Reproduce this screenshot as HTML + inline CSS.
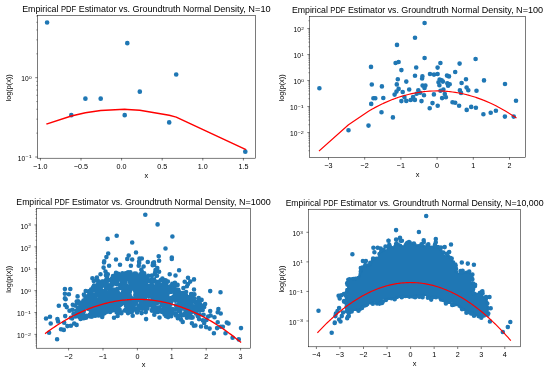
<!DOCTYPE html>
<html><head><meta charset="utf-8"><style>
html,body{margin:0;padding:0;background:#fff;}
svg{display:block;will-change:transform;}
text{font-family:"Liberation Sans",sans-serif;fill:#000;}
</style></head><body>
<svg width="550" height="372" viewBox="0 0 550 372">
<rect width="550" height="372" fill="#fff"/>
<clipPath id="ctl"><rect x="37.5" y="15.5" width="217.9" height="142.7"/></clipPath>
<g clip-path="url(#ctl)">
<path d="M47.1 22.5h0M127.3 43.2h0M71.3 115.2h0M85.4 98.7h0M100.7 98.7h0M124.7 115.2h0M139.8 91.7h0M176.2 74.5h0M169.2 122.4h0M245.3 151.7h0" stroke="#1f77b4" stroke-width="4.69" stroke-linecap="round" fill="none"/>
<path d="M47.10,123.84 L71.30,115.96 L85.40,112.77 L100.70,110.49 L124.70,109.37 L127.30,109.43 L139.80,110.21 L169.20,115.27 L176.20,117.13 L245.30,149.31" fill="none" stroke="#ff0000" stroke-width="1.50" stroke-linejoin="round" stroke-linecap="square"/>
</g>
<rect x="37.5" y="15.5" width="217.9" height="142.7" fill="none" stroke="#000" stroke-width="0.52"/>
<line x1="40.40" y1="158.2" x2="40.40" y2="160.48" stroke="#000" stroke-width="0.52"/>
<text x="40.40" y="168.84" font-size="7.80" text-anchor="middle" textLength="14.17" lengthAdjust="spacingAndGlyphs" >−1.0</text>
<line x1="81.00" y1="158.2" x2="81.00" y2="160.48" stroke="#000" stroke-width="0.52"/>
<text x="81.00" y="168.84" font-size="7.80" text-anchor="middle" textLength="14.17" lengthAdjust="spacingAndGlyphs" >−0.5</text>
<line x1="121.60" y1="158.2" x2="121.60" y2="160.48" stroke="#000" stroke-width="0.52"/>
<text x="121.60" y="168.84" font-size="7.80" text-anchor="middle" textLength="9.97" lengthAdjust="spacingAndGlyphs" >0.0</text>
<line x1="162.20" y1="158.2" x2="162.20" y2="160.48" stroke="#000" stroke-width="0.52"/>
<text x="162.20" y="168.84" font-size="7.80" text-anchor="middle" textLength="9.97" lengthAdjust="spacingAndGlyphs" >0.5</text>
<line x1="202.80" y1="158.2" x2="202.80" y2="160.48" stroke="#000" stroke-width="0.52"/>
<text x="202.80" y="168.84" font-size="7.80" text-anchor="middle" textLength="9.97" lengthAdjust="spacingAndGlyphs" >1.0</text>
<line x1="243.40" y1="158.2" x2="243.40" y2="160.48" stroke="#000" stroke-width="0.52"/>
<text x="243.40" y="168.84" font-size="7.80" text-anchor="middle" textLength="9.97" lengthAdjust="spacingAndGlyphs" >1.5</text>
<line x1="35.22" y1="157.00" x2="37.5" y2="157.00" stroke="#000" stroke-width="0.52"/>
<text x="17.85" y="160.79" font-size="7.80" text-anchor="start" textLength="7.40" lengthAdjust="spacingAndGlyphs" >10</text>
<text x="25.55" y="158.22" font-size="4.13" text-anchor="start" textLength="6.09" lengthAdjust="spacingAndGlyphs" >−1</text>
<line x1="35.22" y1="77.70" x2="37.5" y2="77.70" stroke="#000" stroke-width="0.52"/>
<text x="21.31" y="81.49" font-size="7.80" text-anchor="start" textLength="7.40" lengthAdjust="spacingAndGlyphs" >10</text>
<text x="29.01" y="78.92" font-size="4.13" text-anchor="start" textLength="2.63" lengthAdjust="spacingAndGlyphs" >0</text>
<line x1="36.20" y1="133.13" x2="37.5" y2="133.13" stroke="#000" stroke-width="0.39"/>
<line x1="36.20" y1="119.16" x2="37.5" y2="119.16" stroke="#000" stroke-width="0.39"/>
<line x1="36.20" y1="109.26" x2="37.5" y2="109.26" stroke="#000" stroke-width="0.39"/>
<line x1="36.20" y1="101.57" x2="37.5" y2="101.57" stroke="#000" stroke-width="0.39"/>
<line x1="36.20" y1="95.29" x2="37.5" y2="95.29" stroke="#000" stroke-width="0.39"/>
<line x1="36.20" y1="89.98" x2="37.5" y2="89.98" stroke="#000" stroke-width="0.39"/>
<line x1="36.20" y1="85.38" x2="37.5" y2="85.38" stroke="#000" stroke-width="0.39"/>
<line x1="36.20" y1="81.33" x2="37.5" y2="81.33" stroke="#000" stroke-width="0.39"/>
<line x1="36.20" y1="53.83" x2="37.5" y2="53.83" stroke="#000" stroke-width="0.39"/>
<line x1="36.20" y1="39.86" x2="37.5" y2="39.86" stroke="#000" stroke-width="0.39"/>
<line x1="36.20" y1="29.96" x2="37.5" y2="29.96" stroke="#000" stroke-width="0.39"/>
<line x1="36.20" y1="22.27" x2="37.5" y2="22.27" stroke="#000" stroke-width="0.39"/>
<line x1="36.20" y1="15.99" x2="37.5" y2="15.99" stroke="#000" stroke-width="0.39"/>
<text x="22.20" y="11.90" font-size="8.60" textLength="36.31" lengthAdjust="spacingAndGlyphs">Empirical</text>
<text x="60.99" y="11.90" font-size="8.60" textLength="15.22" lengthAdjust="spacingAndGlyphs">PDF</text>
<text x="78.69" y="11.90" font-size="8.60" textLength="37.69" lengthAdjust="spacingAndGlyphs">Estimator</text>
<text x="118.86" y="11.90" font-size="8.60" textLength="11.17" lengthAdjust="spacingAndGlyphs">vs.</text>
<text x="132.51" y="11.90" font-size="8.60" textLength="47.97" lengthAdjust="spacingAndGlyphs">Groundtruth</text>
<text x="182.96" y="11.90" font-size="8.60" textLength="28.26" lengthAdjust="spacingAndGlyphs">Normal</text>
<text x="213.71" y="11.90" font-size="8.60" textLength="32.18" lengthAdjust="spacingAndGlyphs">Density,</text>
<text x="248.37" y="11.90" font-size="8.60" textLength="22.33" lengthAdjust="spacingAndGlyphs">N=10</text>
<text x="146.45" y="177.60" font-size="7.40" text-anchor="middle" >x</text>
<text x="11.20" y="87.85" font-size="6.60" text-anchor="middle" textLength="27.00" lengthAdjust="spacingAndGlyphs" transform="rotate(-90 11.20 87.85)" >log(p(x))</text>
<clipPath id="ctr"><rect x="309.6" y="16.5" width="215.89999999999998" height="140.9"/></clipPath>
<g clip-path="url(#ctr)">
<path d="M415.0 37.8h0M397.0 44.9h0M424.6 23.0h0M395.6 63.0h0M398.6 62.0h0M371.0 66.9h0M401.4 70.1h0M416.2 67.5h0M415.0 75.8h0M397.8 79.2h0M406.3 81.6h0M424.6 58.0h0M475.6 59.0h0M440.4 63.0h0M459.6 63.6h0M437.6 67.6h0M455.2 72.0h0M430.0 74.0h0M434.0 74.6h0M437.6 74.0h0M422.4 76.4h0M447.0 75.6h0M449.0 76.4h0M466.0 79.2h0M484.0 80.4h0M461.6 83.0h0M505.0 84.0h0M319.4 88.2h0M371.8 84.5h0M381.9 86.4h0M373.4 98.2h0M375.3 98.2h0M383.3 98.0h0M371.2 103.9h0M381.5 112.2h0M368.5 125.6h0M348.5 130.2h0M396.8 84.4h0M398.6 88.9h0M396.5 91.6h0M394.6 94.6h0M402.7 92.0h0M409.2 89.5h0M404.4 97.1h0M401.4 101.1h0M406.3 100.9h0M410.7 100.0h0M414.9 99.9h0M413.1 97.1h0M416.6 93.8h0M418.3 90.2h0M420.1 92.7h0M422.6 85.6h0M425.4 85.6h0M424.5 88.0h0M424.0 95.2h0M421.5 101.1h0M433.9 94.4h0M432.5 103.1h0M429.7 108.3h0M437.7 105.8h0M422.1 78.5h0M439.6 79.5h0M438.5 82.2h0M442.9 81.6h0M447.3 83.3h0M441.7 80.2h0M449.7 84.2h0M439.4 85.3h0M448.1 85.8h0M443.4 89.5h0M466.6 87.5h0M468.3 90.2h0M476.5 90.7h0M459.9 90.2h0M461.0 92.9h0M440.5 90.7h0M444.8 94.0h0M445.9 97.3h0M442.1 98.1h0M452.5 102.2h0M455.2 102.7h0M516.0 100.7h0M466.7 109.9h0M471.2 106.9h0M475.9 107.8h0M483.4 114.3h0M490.7 112.8h0M495.9 110.7h0M504.9 116.6h0M513.7 116.6h0M392.9 117.4h0M459.1 105.8h0" stroke="#1f77b4" stroke-width="4.64" stroke-linecap="round" fill="none"/>
<path d="M319.40,150.61 L348.50,124.75 L368.50,111.20 L371.00,109.75 L371.20,109.64 L371.80,109.30 L373.40,108.41 L375.30,107.38 L381.50,104.24 L381.90,104.05 L383.30,103.40 L392.90,99.34 L394.60,98.71 L395.60,98.35 L396.50,98.03 L396.80,97.92 L397.00,97.85 L397.80,97.58 L398.60,97.31 L398.60,97.31 L401.40,96.42 L401.40,96.42 L402.70,96.02 L404.40,95.53 L406.30,95.01 L406.30,95.01 L409.20,94.28 L410.70,93.93 L413.10,93.41 L414.90,93.05 L415.00,93.03 L415.00,93.03 L416.20,92.81 L416.60,92.74 L418.30,92.45 L420.10,92.17 L421.50,91.97 L422.10,91.90 L422.40,91.86 L422.60,91.83 L424.00,91.67 L424.50,91.61 L424.60,91.60 L424.60,91.60 L425.40,91.52 L429.70,91.16 L430.00,91.14 L432.50,91.02 L433.90,90.97 L434.00,90.97 L437.60,90.93 L437.60,90.93 L437.70,90.93 L438.50,90.93 L439.40,90.95 L439.60,90.95 L440.40,90.97 L440.50,90.98 L441.70,91.02 L442.10,91.03 L442.90,91.07 L443.40,91.10 L444.80,91.18 L445.90,91.26 L447.00,91.35 L447.30,91.37 L448.10,91.45 L449.00,91.54 L449.70,91.61 L452.50,91.95 L455.20,92.34 L455.20,92.34 L459.10,93.01 L459.60,93.11 L459.90,93.17 L461.00,93.39 L461.60,93.51 L466.00,94.52 L466.60,94.68 L466.70,94.70 L468.30,95.12 L471.20,95.94 L475.60,97.31 L475.90,97.41 L476.50,97.61 L483.40,100.16 L484.00,100.40 L490.70,103.30 L495.90,105.82 L504.90,110.73 L505.00,110.79 L513.70,116.21 L516.00,117.75" fill="none" stroke="#ff0000" stroke-width="1.15" stroke-linejoin="round" stroke-linecap="square"/>
</g>
<rect x="309.6" y="16.5" width="215.89999999999998" height="140.9" fill="none" stroke="#000" stroke-width="0.52"/>
<line x1="328.50" y1="157.4" x2="328.50" y2="159.66" stroke="#000" stroke-width="0.52"/>
<text x="328.50" y="168.00" font-size="7.80" text-anchor="middle" textLength="8.18" lengthAdjust="spacingAndGlyphs" >−3</text>
<line x1="364.70" y1="157.4" x2="364.70" y2="159.66" stroke="#000" stroke-width="0.52"/>
<text x="364.70" y="168.00" font-size="7.80" text-anchor="middle" textLength="8.18" lengthAdjust="spacingAndGlyphs" >−2</text>
<line x1="400.90" y1="157.4" x2="400.90" y2="159.66" stroke="#000" stroke-width="0.52"/>
<text x="400.90" y="168.00" font-size="7.80" text-anchor="middle" textLength="8.18" lengthAdjust="spacingAndGlyphs" >−1</text>
<line x1="437.10" y1="157.4" x2="437.10" y2="159.66" stroke="#000" stroke-width="0.52"/>
<text x="437.10" y="168.00" font-size="7.80" text-anchor="middle" textLength="3.99" lengthAdjust="spacingAndGlyphs" >0</text>
<line x1="473.30" y1="157.4" x2="473.30" y2="159.66" stroke="#000" stroke-width="0.52"/>
<text x="473.30" y="168.00" font-size="7.80" text-anchor="middle" textLength="3.99" lengthAdjust="spacingAndGlyphs" >1</text>
<line x1="509.50" y1="157.4" x2="509.50" y2="159.66" stroke="#000" stroke-width="0.52"/>
<text x="509.50" y="168.00" font-size="7.80" text-anchor="middle" textLength="3.99" lengthAdjust="spacingAndGlyphs" >2</text>
<line x1="307.34" y1="132.55" x2="309.6" y2="132.55" stroke="#000" stroke-width="0.52"/>
<text x="289.99" y="136.34" font-size="7.80" text-anchor="start" textLength="7.40" lengthAdjust="spacingAndGlyphs" >10</text>
<text x="297.69" y="133.77" font-size="4.13" text-anchor="start" textLength="6.09" lengthAdjust="spacingAndGlyphs" >−2</text>
<line x1="307.34" y1="106.55" x2="309.6" y2="106.55" stroke="#000" stroke-width="0.52"/>
<text x="289.99" y="110.34" font-size="7.80" text-anchor="start" textLength="7.40" lengthAdjust="spacingAndGlyphs" >10</text>
<text x="297.69" y="107.77" font-size="4.13" text-anchor="start" textLength="6.09" lengthAdjust="spacingAndGlyphs" >−1</text>
<line x1="307.34" y1="80.55" x2="309.6" y2="80.55" stroke="#000" stroke-width="0.52"/>
<text x="293.45" y="84.34" font-size="7.80" text-anchor="start" textLength="7.40" lengthAdjust="spacingAndGlyphs" >10</text>
<text x="301.15" y="81.77" font-size="4.13" text-anchor="start" textLength="2.63" lengthAdjust="spacingAndGlyphs" >0</text>
<line x1="307.34" y1="54.55" x2="309.6" y2="54.55" stroke="#000" stroke-width="0.52"/>
<text x="293.45" y="58.34" font-size="7.80" text-anchor="start" textLength="7.40" lengthAdjust="spacingAndGlyphs" >10</text>
<text x="301.15" y="55.77" font-size="4.13" text-anchor="start" textLength="2.63" lengthAdjust="spacingAndGlyphs" >1</text>
<line x1="307.34" y1="28.55" x2="309.6" y2="28.55" stroke="#000" stroke-width="0.52"/>
<text x="293.45" y="32.34" font-size="7.80" text-anchor="start" textLength="7.40" lengthAdjust="spacingAndGlyphs" >10</text>
<text x="301.15" y="29.77" font-size="4.13" text-anchor="start" textLength="2.63" lengthAdjust="spacingAndGlyphs" >2</text>
<line x1="308.31" y1="150.72" x2="309.6" y2="150.72" stroke="#000" stroke-width="0.39"/>
<line x1="308.31" y1="146.14" x2="309.6" y2="146.14" stroke="#000" stroke-width="0.39"/>
<line x1="308.31" y1="142.90" x2="309.6" y2="142.90" stroke="#000" stroke-width="0.39"/>
<line x1="308.31" y1="140.38" x2="309.6" y2="140.38" stroke="#000" stroke-width="0.39"/>
<line x1="308.31" y1="138.32" x2="309.6" y2="138.32" stroke="#000" stroke-width="0.39"/>
<line x1="308.31" y1="136.58" x2="309.6" y2="136.58" stroke="#000" stroke-width="0.39"/>
<line x1="308.31" y1="135.07" x2="309.6" y2="135.07" stroke="#000" stroke-width="0.39"/>
<line x1="308.31" y1="133.74" x2="309.6" y2="133.74" stroke="#000" stroke-width="0.39"/>
<line x1="308.31" y1="124.72" x2="309.6" y2="124.72" stroke="#000" stroke-width="0.39"/>
<line x1="308.31" y1="120.14" x2="309.6" y2="120.14" stroke="#000" stroke-width="0.39"/>
<line x1="308.31" y1="116.90" x2="309.6" y2="116.90" stroke="#000" stroke-width="0.39"/>
<line x1="308.31" y1="114.38" x2="309.6" y2="114.38" stroke="#000" stroke-width="0.39"/>
<line x1="308.31" y1="112.32" x2="309.6" y2="112.32" stroke="#000" stroke-width="0.39"/>
<line x1="308.31" y1="110.58" x2="309.6" y2="110.58" stroke="#000" stroke-width="0.39"/>
<line x1="308.31" y1="109.07" x2="309.6" y2="109.07" stroke="#000" stroke-width="0.39"/>
<line x1="308.31" y1="107.74" x2="309.6" y2="107.74" stroke="#000" stroke-width="0.39"/>
<line x1="308.31" y1="98.72" x2="309.6" y2="98.72" stroke="#000" stroke-width="0.39"/>
<line x1="308.31" y1="94.14" x2="309.6" y2="94.14" stroke="#000" stroke-width="0.39"/>
<line x1="308.31" y1="90.90" x2="309.6" y2="90.90" stroke="#000" stroke-width="0.39"/>
<line x1="308.31" y1="88.38" x2="309.6" y2="88.38" stroke="#000" stroke-width="0.39"/>
<line x1="308.31" y1="86.32" x2="309.6" y2="86.32" stroke="#000" stroke-width="0.39"/>
<line x1="308.31" y1="84.58" x2="309.6" y2="84.58" stroke="#000" stroke-width="0.39"/>
<line x1="308.31" y1="83.07" x2="309.6" y2="83.07" stroke="#000" stroke-width="0.39"/>
<line x1="308.31" y1="81.74" x2="309.6" y2="81.74" stroke="#000" stroke-width="0.39"/>
<line x1="308.31" y1="72.72" x2="309.6" y2="72.72" stroke="#000" stroke-width="0.39"/>
<line x1="308.31" y1="68.14" x2="309.6" y2="68.14" stroke="#000" stroke-width="0.39"/>
<line x1="308.31" y1="64.90" x2="309.6" y2="64.90" stroke="#000" stroke-width="0.39"/>
<line x1="308.31" y1="62.38" x2="309.6" y2="62.38" stroke="#000" stroke-width="0.39"/>
<line x1="308.31" y1="60.32" x2="309.6" y2="60.32" stroke="#000" stroke-width="0.39"/>
<line x1="308.31" y1="58.58" x2="309.6" y2="58.58" stroke="#000" stroke-width="0.39"/>
<line x1="308.31" y1="57.07" x2="309.6" y2="57.07" stroke="#000" stroke-width="0.39"/>
<line x1="308.31" y1="55.74" x2="309.6" y2="55.74" stroke="#000" stroke-width="0.39"/>
<line x1="308.31" y1="46.72" x2="309.6" y2="46.72" stroke="#000" stroke-width="0.39"/>
<line x1="308.31" y1="42.14" x2="309.6" y2="42.14" stroke="#000" stroke-width="0.39"/>
<line x1="308.31" y1="38.90" x2="309.6" y2="38.90" stroke="#000" stroke-width="0.39"/>
<line x1="308.31" y1="36.38" x2="309.6" y2="36.38" stroke="#000" stroke-width="0.39"/>
<line x1="308.31" y1="34.32" x2="309.6" y2="34.32" stroke="#000" stroke-width="0.39"/>
<line x1="308.31" y1="32.58" x2="309.6" y2="32.58" stroke="#000" stroke-width="0.39"/>
<line x1="308.31" y1="31.07" x2="309.6" y2="31.07" stroke="#000" stroke-width="0.39"/>
<line x1="308.31" y1="29.74" x2="309.6" y2="29.74" stroke="#000" stroke-width="0.39"/>
<line x1="308.31" y1="20.72" x2="309.6" y2="20.72" stroke="#000" stroke-width="0.39"/>
<text x="291.90" y="12.90" font-size="8.60" textLength="36.00" lengthAdjust="spacingAndGlyphs">Empirical</text>
<text x="330.36" y="12.90" font-size="8.60" textLength="15.09" lengthAdjust="spacingAndGlyphs">PDF</text>
<text x="347.91" y="12.90" font-size="8.60" textLength="37.36" lengthAdjust="spacingAndGlyphs">Estimator</text>
<text x="387.73" y="12.90" font-size="8.60" textLength="11.08" lengthAdjust="spacingAndGlyphs">vs.</text>
<text x="401.27" y="12.90" font-size="8.60" textLength="47.56" lengthAdjust="spacingAndGlyphs">Groundtruth</text>
<text x="451.29" y="12.90" font-size="8.60" textLength="28.02" lengthAdjust="spacingAndGlyphs">Normal</text>
<text x="481.77" y="12.90" font-size="8.60" textLength="31.90" lengthAdjust="spacingAndGlyphs">Density,</text>
<text x="516.13" y="12.90" font-size="8.60" textLength="27.07" lengthAdjust="spacingAndGlyphs">N=100</text>
<text x="417.55" y="176.50" font-size="7.40" text-anchor="middle" >x</text>
<text x="284.30" y="87.95" font-size="6.60" text-anchor="middle" textLength="27.00" lengthAdjust="spacingAndGlyphs" transform="rotate(-90 284.30 87.95)" >log(p(x))</text>
<clipPath id="cbl"><rect x="36.7" y="208.4" width="213.60000000000002" height="139.79999999999998"/></clipPath>
<g clip-path="url(#cbl)">
<path d="M145.3 214.8h0M157.6 224.4h0M116.7 235.8h0M107.6 238.9h0M172.4 236.5h0M132.2 242.5h0M165.5 248.5h0M108.2 253.5h0M136.0 252.5h0M106.4 257.1h0M104.2 261.3h0M116.0 259.5h0M128.7 255.6h0M127.3 258.9h0M132.2 259.5h0M158.7 256.2h0M159.1 260.7h0M171.8 257.5h0M171.8 258.9h0M139.5 258.5h0M141.8 258.5h0M139.1 261.6h0M147.8 262.0h0M154.0 262.2h0M152.7 265.3h0M120.0 264.7h0M109.1 265.8h0M103.6 267.6h0M130.9 265.8h0M138.7 265.8h0M143.6 266.5h0M157.3 268.0h0M141.3 269.8h0M179.1 270.2h0M104.0 262.5h0M139.2 262.9h0M100.5 274.3h0M105.5 271.5h0M106.0 275.6h0M107.8 274.3h0M116.0 272.9h0M118.3 273.8h0M122.4 273.4h0M125.5 273.4h0M134.6 273.6h0M144.2 273.4h0M96.9 277.5h0M154.2 264.9h0M157.5 270.9h0M159.1 271.8h0M169.7 274.2h0M175.5 275.5h0M188.0 277.7h0M194.0 279.4h0M184.7 281.8h0M190.2 281.6h0M174.9 282.7h0M177.6 284.9h0M173.8 285.1h0M186.9 286.2h0M188.0 284.0h0M194.0 289.5h0M165.6 280.2h0M162.4 278.5h0M155.1 272.5h0M92.4 278.2h0M97.8 280.6h0M93.8 280.9h0M103.2 281.6h0M64.9 289.0h0M70.3 289.0h0M64.9 293.7h0M68.9 294.3h0M64.9 298.4h0M77.6 296.4h0M85.7 291.0h0M84.4 295.7h0M89.1 293.7h0M91.1 289.6h0M95.1 287.0h0M99.8 288.3h0M105.9 287.6h0M65.7 299.3h0M58.8 305.7h0M65.2 305.0h0M66.7 307.1h0M72.8 304.7h0M78.1 301.4h0M69.5 310.7h0M46.0 318.5h0M50.0 316.7h0M50.7 323.5h0M57.4 319.0h0M58.1 321.4h0M65.2 316.1h0M64.2 322.8h0M49.1 332.8h0M57.1 339.2h0M61.0 329.2h0M63.8 329.9h0M67.4 326.1h0M70.9 325.7h0M74.2 323.5h0M76.6 324.9h0M70.9 317.8h0M72.1 318.5h0M92.4 288.5h0M96.3 286.7h0M210.2 291.1h0M220.5 292.2h0M194.4 294.4h0M198.7 298.0h0M191.1 297.1h0M204.2 306.9h0M194.9 306.4h0M198.7 308.5h0M210.2 311.1h0M218.4 309.1h0M217.7 312.3h0M220.7 313.5h0M214.5 317.2h0M208.1 316.5h0M210.6 315.5h0M206.5 320.0h0M217.7 322.2h0M226.8 322.6h0M228.5 323.5h0M241.0 328.1h0M222.9 326.8h0M217.1 328.1h0M220.7 326.8h0M213.9 333.3h0M225.5 333.3h0M232.6 337.7h0M238.8 339.4h0M209.6 328.6h0M206.1 327.1h0M201.0 326.5h0M193.9 325.8h0M191.9 323.2h0M204.2 323.0h0M202.9 320.4h0M199.0 319.1h0M197.7 316.1h0M192.6 317.4h0M190.0 317.4h0M195.2 312.3h0M102.2 316.9h0M114.0 317.7h0M132.7 315.8h0M137.1 312.5h0M146.1 319.1h0M157.8 312.0h0M159.5 317.5h0M168.1 317.1h0M182.7 321.9h0M195.4 325.5h0M191.1 294.1h0M124.1 275.1h0M112.8 277.6h0M118.3 275.8h0M153.0 263.1h0M141.7 271.1h0M155.5 270.0h0M143.9 274.7h0M148.3 275.8h0M151.9 275.5h0M154.8 274.0h0M157.0 275.8h0M167.9 281.6h0M172.3 283.8h0M73.5 314.0h0M76.5 310.5h0M81.2 303.0h0M83.5 300.5h0M87.8 296.0h0M91.5 291.5h0M94.0 288.0h0M97.8 284.0h0M102.0 281.5h0M106.5 279.5h0M112.0 278.5h0M118.0 278.0h0M124.0 276.5h0M129.8 275.0h0M135.0 275.5h0M141.4 276.5h0M147.0 278.0h0M153.0 279.5h0M159.0 281.5h0M164.7 284.0h0M170.0 286.5h0M176.3 289.6h0M182.0 293.0h0M188.0 297.0h0M194.0 299.5h0M199.5 302.7h0M201.0 306.0h0M200.0 310.5h0M196.0 313.5h0M190.0 315.5h0M182.0 315.5h0M176.0 315.5h0M166.0 313.6h0M158.0 311.0h0M151.8 310.6h0M142.5 308.7h0M137.1 310.3h0M127.3 311.4h0M120.7 312.0h0M110.9 310.9h0M107.2 311.7h0M101.1 315.3h0M90.2 316.5h0M80.6 318.9h0M75.7 316.5h0M75.9 313.4h0M78.1 308.7h0M80.4 305.5h0M81.6 302.5h0M85.4 299.7h0M90.2 293.3h0M92.0 291.2h0M94.4 286.9h0M101.5 282.1h0M106.3 281.0h0M109.5 280.3h0M114.7 279.5h0M118.8 277.8h0M125.6 277.4h0M130.9 275.7h0M136.3 276.7h0M140.2 276.6h0M144.1 277.8h0M151.7 279.2h0M154.1 279.6h0M164.4 284.1h0M169.1 286.8h0M171.6 287.8h0M174.7 288.3h0M178.3 289.8h0M180.0 293.3h0M183.4 293.2h0M185.4 297.0h0M188.2 298.5h0M194.3 298.6h0M198.4 302.1h0M199.7 305.7h0M200.5 307.3h0M197.7 310.5h0M190.0 315.1h0M188.0 314.8h0M185.0 315.0h0M177.0 315.8h0M175.0 313.8h0M170.2 313.5h0M167.7 312.5h0M163.5 312.2h0M160.2 311.2h0M155.8 310.7h0M147.5 308.5h0M146.0 308.0h0M138.6 310.0h0M136.3 309.9h0M131.7 311.1h0M130.1 311.8h0M124.6 310.5h0M121.2 312.3h0M118.1 311.6h0M116.6 312.3h0M112.3 310.4h0M110.1 311.9h0M105.8 312.3h0M102.6 315.1h0M98.7 314.5h0M95.3 315.7h0M91.9 316.6h0M89.2 315.7h0M86.4 316.6h0M83.8 318.2h0M79.6 317.3h0M76.1 315.7h0M143.7 306.1h0M110.6 297.4h0M187.4 314.3h0M156.3 287.2h0M159.7 300.9h0M106.6 293.2h0M109.6 305.4h0M129.7 281.9h0M112.6 284.7h0M197.9 304.5h0M188.6 312.1h0M121.7 279.0h0M156.8 299.5h0M119.6 284.9h0M125.3 295.6h0M107.8 287.8h0M148.2 287.4h0M108.9 295.0h0M99.7 283.8h0M139.0 278.8h0M135.2 290.9h0M163.7 307.8h0M161.6 305.3h0M121.1 304.3h0M116.8 300.1h0M115.0 294.5h0M161.7 303.6h0M165.8 295.9h0M90.0 299.3h0M160.4 298.8h0M163.7 286.6h0M191.7 311.8h0M166.1 296.1h0M180.9 307.7h0M154.3 291.1h0M144.0 283.6h0M98.0 306.9h0M182.0 298.9h0M191.8 309.6h0M135.3 295.0h0M101.3 282.8h0M82.9 314.2h0M155.1 281.3h0M126.3 277.2h0M100.2 307.1h0M156.5 296.0h0M108.5 303.6h0M84.1 317.1h0M162.1 311.9h0M166.2 290.8h0M113.5 293.4h0M185.7 310.1h0M99.6 285.6h0M162.6 296.2h0M101.0 311.5h0M109.1 293.9h0M142.3 279.2h0M180.2 298.5h0M196.6 308.0h0M162.8 311.9h0M168.2 288.4h0M139.4 281.9h0M134.6 277.7h0M142.2 278.3h0M96.9 294.2h0M137.0 300.6h0M152.6 291.4h0M152.4 281.9h0M108.6 310.1h0M104.5 296.1h0M132.3 282.1h0M160.1 309.9h0M147.2 305.5h0M123.3 277.0h0M129.5 291.3h0M149.6 280.9h0M102.5 310.8h0M107.2 293.0h0M92.0 305.8h0M145.8 301.8h0M167.3 302.8h0M95.5 311.4h0M78.9 313.1h0M159.7 294.6h0M159.1 295.2h0M164.6 293.2h0M167.3 295.9h0M137.3 293.3h0M158.8 309.6h0M190.8 312.9h0M138.0 299.9h0M88.2 308.5h0M95.6 298.4h0M151.2 296.6h0M159.5 309.7h0M154.0 300.3h0M156.5 298.8h0M131.1 298.5h0M128.6 279.5h0M100.2 284.5h0M139.3 300.0h0M178.6 296.4h0M168.4 299.3h0M153.0 286.9h0M193.0 308.8h0M92.1 298.6h0M112.1 307.5h0M78.5 307.8h0M146.6 307.1h0M117.7 300.2h0M98.1 306.9h0M142.9 298.5h0M132.7 275.3h0M178.1 300.1h0M98.5 315.4h0M127.6 302.2h0M99.4 289.4h0M117.5 292.3h0M95.2 301.5h0M152.5 305.6h0M110.7 287.8h0M169.8 292.0h0M92.9 314.7h0M75.2 313.9h0M110.8 291.8h0M164.8 293.1h0M190.0 306.6h0M134.8 278.7h0M119.9 296.5h0M109.7 298.5h0M100.2 296.7h0M140.8 304.6h0M168.5 307.0h0M127.6 295.0h0M191.4 299.1h0M112.4 302.3h0M160.7 298.1h0M117.0 295.0h0M92.0 304.3h0M118.7 297.2h0M162.2 301.6h0M119.4 302.2h0M130.6 297.2h0M153.0 281.2h0M187.6 299.5h0M192.3 307.2h0M128.2 291.7h0M173.5 296.9h0M82.4 311.1h0M123.4 279.7h0M95.7 312.7h0M95.5 309.4h0M129.0 309.6h0M121.9 302.6h0M100.7 312.0h0M180.5 299.8h0M114.7 290.3h0M149.3 280.6h0M138.6 288.0h0M117.1 289.1h0M103.6 282.2h0M181.1 314.6h0M135.6 293.5h0M184.2 298.2h0M143.5 303.5h0M83.7 311.8h0M87.0 298.4h0M191.6 299.1h0M117.1 306.9h0M188.4 302.1h0M80.6 313.6h0M140.8 306.0h0M169.2 305.5h0M170.7 304.0h0M133.7 288.0h0M108.5 292.3h0M170.7 287.5h0M129.0 306.7h0M163.9 304.8h0M135.7 281.3h0M130.2 285.9h0M162.1 304.1h0M132.4 306.0h0M145.2 304.7h0M154.2 286.5h0M181.2 295.7h0M91.7 311.2h0M83.5 309.9h0M175.9 292.6h0M104.7 292.8h0M161.1 294.5h0M137.7 279.1h0M116.6 284.1h0M152.1 305.6h0M137.8 277.0h0M105.5 285.4h0M107.6 286.6h0M197.5 309.7h0M187.1 306.3h0M135.3 283.1h0M166.5 286.4h0M178.4 307.5h0M110.5 295.2h0M164.7 304.3h0M140.6 284.4h0M114.9 305.5h0M131.8 306.5h0M160.7 290.6h0M86.1 304.9h0M118.8 299.8h0M127.5 304.4h0M88.5 309.0h0M182.0 304.5h0M170.5 287.3h0M182.6 294.9h0M94.1 303.2h0M129.4 289.5h0M169.4 287.9h0M125.5 291.4h0M156.3 297.3h0M93.4 303.2h0M176.5 308.7h0M83.4 309.9h0M145.2 278.5h0M168.5 299.7h0M131.1 303.0h0M130.1 276.6h0M132.5 310.7h0M115.4 291.9h0M110.7 287.9h0M145.1 289.3h0M81.9 305.3h0M112.9 292.2h0M156.9 293.6h0M138.4 290.5h0M156.8 283.6h0M120.1 305.1h0M146.0 278.7h0M83.5 308.8h0M162.9 303.5h0M101.7 309.4h0M147.1 281.5h0M94.7 302.3h0M111.1 306.4h0M99.4 303.2h0M126.3 276.4h0M139.3 297.3h0M189.8 306.2h0M112.2 303.3h0M105.4 303.7h0M150.2 302.0h0M94.0 306.2h0M142.1 307.6h0M79.2 307.2h0M194.7 300.7h0M91.4 315.6h0M144.4 287.2h0M87.3 299.6h0M166.9 304.0h0M183.3 303.8h0M154.0 301.8h0M94.5 312.5h0M178.1 305.2h0M163.4 289.8h0M116.3 279.5h0M162.7 293.4h0M112.1 283.5h0M165.1 300.2h0M120.5 288.0h0M137.6 285.9h0M110.4 301.4h0M186.1 300.6h0M140.9 302.2h0M170.0 287.7h0M161.0 286.7h0M156.7 286.3h0M175.0 290.2h0M164.6 312.5h0M184.6 297.8h0M143.5 287.9h0M182.7 308.5h0M139.0 297.1h0M190.7 299.6h0M171.2 298.1h0M144.4 294.0h0M122.1 295.4h0M129.7 280.9h0M117.1 296.7h0M179.2 303.9h0M112.6 295.0h0M153.1 292.6h0M98.8 284.9h0M97.1 287.6h0M134.7 284.6h0M185.7 310.7h0M186.2 297.5h0M95.0 309.2h0M200.0 304.1h0M103.2 300.2h0M175.6 300.8h0M153.5 292.2h0M101.9 314.4h0M148.1 290.8h0M115.2 282.6h0M97.1 304.3h0M110.0 288.9h0M179.0 311.2h0M157.0 294.6h0M113.1 297.8h0M158.2 292.1h0M125.6 284.5h0M94.7 302.3h0M157.3 301.3h0M168.8 289.0h0M106.9 287.6h0M180.3 312.3h0M121.7 287.7h0M161.0 285.3h0M168.2 309.8h0M141.5 282.7h0M107.0 299.9h0M100.0 314.5h0M123.2 279.7h0M153.0 296.0h0M98.0 315.2h0M107.2 304.8h0M194.9 311.0h0M188.8 309.0h0M147.5 291.3h0M109.4 289.7h0M114.0 299.8h0M122.1 293.6h0M126.3 308.6h0M167.6 293.5h0M117.2 278.6h0M115.9 283.3h0M155.8 307.8h0M135.8 296.2h0M148.4 291.2h0M194.5 301.7h0M187.5 302.1h0M157.2 290.6h0M157.4 302.8h0M197.4 301.7h0M92.1 290.9h0M196.5 304.5h0M160.5 294.0h0M124.6 288.3h0M170.6 291.0h0M91.8 314.4h0M107.7 285.1h0M157.0 288.2h0M176.0 305.2h0M148.7 295.9h0M121.5 294.4h0M103.0 305.7h0M163.9 300.1h0M106.8 284.9h0M141.5 286.6h0M167.8 308.7h0M165.2 302.6h0M187.4 299.3h0M109.5 285.4h0M86.3 302.1h0M171.1 301.8h0M90.4 305.8h0M167.7 291.2h0M143.3 278.4h0M117.9 310.5h0M153.7 291.5h0M190.0 302.5h0M156.9 303.2h0M199.4 304.5h0M96.7 308.1h0M140.2 291.6h0M168.6 310.1h0M149.5 305.1h0M180.1 296.0h0M190.1 306.5h0M138.7 284.4h0M140.8 291.4h0M152.9 299.6h0M89.3 305.6h0M147.4 294.1h0M153.9 287.8h0M136.9 291.1h0M167.2 287.7h0M87.6 300.8h0M162.9 304.1h0M81.9 317.1h0M144.3 278.3h0M114.4 309.8h0M144.9 300.5h0M199.5 303.2h0M124.2 302.9h0M102.3 292.9h0M136.7 283.7h0M152.2 309.4h0M117.6 279.5h0M119.6 309.6h0M133.4 275.9h0M162.6 286.7h0M143.5 293.7h0M98.5 292.3h0M107.6 298.6h0M179.2 307.0h0M105.6 280.8h0M111.0 309.7h0M127.3 307.6h0M183.5 297.4h0M136.0 292.8h0M129.6 294.2h0M88.3 316.0h0M139.8 305.2h0M131.4 309.3h0M101.9 312.2h0M129.3 276.8h0M172.4 298.0h0M77.6 314.8h0M157.0 288.8h0M192.0 306.6h0M166.1 311.8h0M154.4 301.6h0M103.3 302.4h0M144.5 299.0h0M144.0 290.8h0M156.0 293.4h0M137.7 292.2h0M105.8 280.3h0M157.2 287.7h0M135.7 295.2h0M151.3 289.3h0M97.4 299.8h0M171.7 291.8h0M123.1 292.1h0M152.7 298.2h0M164.4 289.6h0M95.6 315.0h0M131.8 288.8h0M177.2 298.6h0M159.2 287.4h0M116.7 293.0h0M155.3 292.1h0M122.3 283.7h0M123.8 299.2h0M90.9 308.2h0M190.3 300.0h0M171.5 310.5h0M121.1 279.2h0M154.9 290.1h0M141.7 282.4h0M148.2 305.4h0M185.7 314.6h0M134.0 300.3h0M102.2 281.5h0M188.9 308.8h0M90.4 315.9h0M140.7 293.1h0M111.8 284.5h0M96.1 294.8h0M137.3 278.8h0M91.4 314.1h0M121.3 280.7h0M123.5 282.5h0M84.3 307.7h0M130.9 285.1h0M185.7 297.9h0M151.7 293.7h0M111.6 289.4h0M112.1 295.9h0M94.1 302.7h0M144.9 297.7h0M120.7 299.9h0M82.1 313.7h0M98.1 312.0h0M170.9 301.5h0M119.2 295.0h0M159.0 291.5h0M81.8 306.0h0M164.1 287.5h0M101.0 314.5h0M118.1 278.2h0M123.6 299.8h0M133.7 284.6h0M103.8 297.1h0M89.9 314.5h0M107.0 281.5h0M169.8 311.2h0M85.1 302.1h0M105.6 299.6h0M105.0 309.1h0M81.3 304.0h0M183.5 307.0h0M192.5 300.0h0M133.3 275.9h0M95.7 290.1h0M196.2 303.0h0M163.0 291.8h0M109.4 298.6h0M95.5 313.6h0M105.1 296.3h0M146.8 305.2h0M129.0 286.3h0M125.8 305.2h0M105.7 292.1h0M177.0 291.6h0M162.9 285.1h0M185.1 305.8h0M126.9 275.9h0M129.5 301.1h0M167.8 301.9h0M169.4 299.6h0M136.5 294.9h0M122.2 284.1h0M165.1 285.4h0M149.4 288.9h0M112.0 295.3h0M129.6 294.4h0M137.6 280.7h0M156.4 308.8h0M129.7 295.4h0M104.9 293.9h0M133.6 298.6h0M167.0 298.1h0M95.9 288.5h0M129.2 298.9h0M127.2 292.3h0M189.7 304.3h0M159.0 296.0h0M178.8 291.2h0M151.8 303.6h0M110.2 303.0h0M125.1 282.5h0M144.1 281.1h0M86.3 301.3h0M97.6 312.5h0M115.8 290.3h0M146.3 284.8h0M112.3 280.5h0M181.1 295.8h0M91.8 315.0h0M136.1 303.6h0M143.0 304.3h0M151.7 283.9h0M119.8 301.9h0M99.3 304.0h0M138.8 306.6h0M97.8 311.9h0M184.0 298.4h0M191.8 302.3h0M136.0 296.0h0M111.1 295.3h0M142.1 279.4h0M122.4 288.4h0M106.4 294.4h0M113.8 309.5h0M89.5 302.4h0M175.9 299.2h0M120.7 277.7h0M184.7 303.7h0M137.7 276.8h0M84.6 303.3h0M172.4 309.0h0M175.5 309.0h0M136.9 286.8h0M184.6 308.5h0M127.0 292.7h0M136.7 294.6h0M148.4 300.5h0M158.1 284.5h0M127.4 311.0h0M145.8 292.9h0M82.7 314.8h0M144.9 306.5h0M161.9 301.4h0M141.4 277.9h0M95.2 299.8h0M105.7 302.2h0M132.5 302.1h0M176.7 296.8h0M94.1 295.1h0M146.1 284.1h0M181.5 304.9h0M89.3 308.9h0M169.6 300.8h0M139.3 296.8h0M176.1 293.1h0M146.1 303.1h0M185.8 304.5h0M130.8 298.1h0M103.4 313.1h0M191.5 304.6h0M175.3 290.8h0M129.9 291.4h0M141.9 281.7h0M168.2 290.6h0M124.7 290.8h0M152.1 290.6h0M105.6 303.4h0M133.3 305.7h0M143.0 292.8h0M166.0 289.8h0M135.2 276.4h0M169.4 313.9h0M95.1 290.6h0M121.9 298.8h0M175.8 313.2h0M104.5 313.2h0M189.0 301.9h0M139.9 280.3h0M97.7 301.1h0M160.6 292.2h0M112.7 308.8h0M154.8 304.4h0M135.5 292.1h0M152.6 301.4h0M101.7 290.8h0M84.9 304.3h0M91.9 296.8h0M167.5 310.9h0M96.1 303.0h0M124.7 291.2h0M196.1 311.1h0M111.5 299.4h0M161.5 300.1h0M121.2 278.0h0M164.8 307.1h0M121.8 277.8h0M81.2 306.4h0M121.4 301.2h0M158.7 307.6h0M104.4 291.0h0M107.0 285.1h0M189.3 301.4h0M173.3 299.1h0M101.3 287.0h0M174.9 294.2h0M149.9 285.9h0M86.6 315.9h0M143.5 289.1h0M110.5 301.6h0M107.2 305.4h0M163.8 312.8h0M156.9 292.1h0M117.0 306.2h0M171.9 311.2h0M98.5 288.6h0M128.0 310.1h0M192.5 310.2h0M154.2 299.8h0M96.1 306.7h0M112.8 303.8h0M142.6 296.4h0M135.0 279.7h0M125.3 297.4h0M153.3 297.1h0M168.8 288.8h0M100.6 299.8h0M130.8 278.8h0M100.5 315.4h0M107.9 287.1h0M141.6 278.2h0M130.9 305.0h0M154.4 288.5h0M145.3 301.2h0M81.8 313.4h0M124.0 294.1h0M139.3 307.3h0M144.9 281.7h0M115.8 296.8h0M113.5 289.6h0M145.3 285.6h0M124.2 293.2h0M95.5 295.9h0M142.2 295.4h0M119.5 278.1h0M157.7 291.6h0M93.2 312.8h0M123.9 300.4h0M99.1 309.3h0M99.1 301.0h0M102.1 282.6h0M166.2 285.7h0M79.7 308.6h0M195.4 311.8h0M117.8 292.3h0M99.9 300.6h0M124.9 280.7h0M104.0 311.3h0M87.5 306.8h0M178.3 298.9h0M110.4 285.8h0M117.5 289.3h0M93.2 309.6h0M98.6 299.4h0M141.5 298.2h0M109.8 292.8h0M103.7 304.3h0M90.2 301.5h0M169.2 286.8h0M132.2 308.8h0M112.8 294.1h0M120.4 296.7h0M89.1 307.3h0M102.2 297.9h0M155.8 307.7h0M94.9 300.8h0M177.4 292.6h0M160.8 292.9h0M102.1 285.3h0M98.5 295.3h0M137.9 276.5h0M126.4 289.6h0M125.7 285.6h0M117.9 310.9h0M142.9 281.7h0M97.7 285.7h0M127.9 288.8h0M165.3 305.1h0M136.4 275.7h0M190.5 309.7h0M98.1 291.3h0M146.2 293.4h0M143.6 280.6h0M127.1 308.5h0M98.0 301.8h0M77.8 312.0h0M121.4 286.0h0M99.3 286.0h0M108.2 308.9h0M141.7 289.4h0M171.2 301.7h0M116.9 282.4h0M83.0 306.4h0M153.1 288.0h0M162.4 287.1h0M170.1 305.0h0M166.4 287.5h0M142.4 308.0h0M150.7 285.5h0M111.6 306.2h0M133.7 307.7h0M184.0 295.3h0M179.2 299.4h0M172.4 311.5h0M181.3 295.9h0M141.1 277.8h0M187.7 311.3h0M141.2 288.7h0M91.1 312.1h0M103.7 306.2h0M125.4 301.7h0M94.1 300.1h0M180.9 293.4h0M141.6 284.5h0M191.2 308.2h0M188.3 302.5h0M190.2 313.7h0M172.3 312.8h0M165.2 309.9h0M94.1 295.3h0M127.4 306.7h0M159.1 288.8h0M109.1 292.1h0M94.8 315.7h0M116.5 302.7h0M117.7 306.1h0M136.8 287.4h0M185.0 313.2h0M167.9 300.5h0M142.9 302.8h0M109.7 301.5h0M123.9 285.5h0M81.0 309.7h0M134.4 299.0h0M182.2 300.5h0M141.4 304.0h0M125.0 282.9h0M101.4 296.3h0M135.0 308.3h0M120.2 294.7h0M158.9 284.4h0M120.5 303.9h0M137.2 289.6h0M79.9 310.1h0M128.0 313.1h0M177.8 318.2h0M77.1 302.8h0M140.3 274.3h0M154.8 312.4h0M163.7 282.7h0M78.5 302.6h0M142.9 275.5h0M118.0 312.5h0M205.1 304.1h0M183.4 288.1h0M171.2 316.3h0M203.6 314.8h0M191.9 317.8h0M83.9 294.5h0M106.0 275.1h0M156.5 275.7h0M163.6 282.2h0M199.5 314.8h0M147.4 276.8h0M128.1 272.2h0M186.1 292.1h0M127.8 272.5h0M201.6 299.9h0M75.2 305.6h0M130.3 272.3h0M200.8 305.1h0M164.6 314.4h0M93.1 287.3h0M115.1 275.5h0M94.0 285.6h0M131.7 312.3h0M181.1 319.7h0M154.3 314.7h0M192.9 294.3h0M119.8 275.0h0M178.4 316.4h0M145.1 276.6h0M76.7 301.6h0M86.0 317.8h0M117.6 316.0h0M160.9 280.0h0M124.2 274.7h0M202.7 309.9h0M99.4 283.0h0M72.4 309.7h0M141.6 313.1h0M167.2 313.8h0M165.9 316.1h0M88.7 291.2h0M186.0 295.3h0M113.0 276.1h0M145.8 312.1h0M135.8 273.6h0M107.2 276.7h0M186.9 317.8h0M121.4 313.2h0" stroke="#1f77b4" stroke-width="4.62" stroke-linecap="round" fill="none"/>
<path d="M45.55,333.24 L47.19,332.04 L48.83,330.86 L50.47,329.71 L52.11,328.57 L53.75,327.46 L55.39,326.37 L57.03,325.30 L58.66,324.25 L60.30,323.23 L61.94,322.22 L63.58,321.24 L65.22,320.28 L66.86,319.34 L68.50,318.42 L70.14,317.52 L71.78,316.65 L73.42,315.79 L75.06,314.96 L76.69,314.15 L78.33,313.36 L79.97,312.59 L81.61,311.85 L83.25,311.12 L84.89,310.42 L86.53,309.74 L88.17,309.08 L89.81,308.44 L91.45,307.83 L93.08,307.23 L94.72,306.66 L96.36,306.11 L98.00,305.58 L99.64,305.07 L101.28,304.58 L102.92,304.12 L104.56,303.67 L106.20,303.25 L107.84,302.85 L109.48,302.47 L111.11,302.12 L112.75,301.78 L114.39,301.47 L116.03,301.18 L117.67,300.90 L119.31,300.66 L120.95,300.43 L122.59,300.22 L124.23,300.04 L125.87,299.87 L127.50,299.73 L129.14,299.61 L130.78,299.52 L132.42,299.44 L134.06,299.38 L135.70,299.35 L137.34,299.34 L138.98,299.35 L140.62,299.38 L142.26,299.43 L143.90,299.51 L145.53,299.61 L147.17,299.72 L148.81,299.86 L150.45,300.02 L152.09,300.21 L153.73,300.41 L155.37,300.64 L157.01,300.89 L158.65,301.15 L160.29,301.44 L161.93,301.76 L163.56,302.09 L165.20,302.45 L166.84,302.82 L168.48,303.22 L170.12,303.64 L171.76,304.08 L173.40,304.55 L175.04,305.03 L176.68,305.54 L178.32,306.07 L179.95,306.62 L181.59,307.19 L183.23,307.78 L184.87,308.40 L186.51,309.03 L188.15,309.69 L189.79,310.37 L191.43,311.07 L193.07,311.79 L194.71,312.54 L196.35,313.30 L197.98,314.09 L199.62,314.90 L201.26,315.73 L202.90,316.58 L204.54,317.46 L206.18,318.35 L207.82,319.27 L209.46,320.21 L211.10,321.17 L212.74,322.15 L214.38,323.15 L216.01,324.18 L217.65,325.22 L219.29,326.29 L220.93,327.38 L222.57,328.49 L224.21,329.62 L225.85,330.78 L227.49,331.95 L229.13,333.15 L230.77,334.37 L232.40,335.61 L234.04,336.87 L235.68,338.16 L237.32,339.46 L238.96,340.79 L240.60,342.14" fill="none" stroke="#ff0000" stroke-width="1.30" stroke-linejoin="round" stroke-linecap="square"/>
</g>
<rect x="36.7" y="208.4" width="213.60000000000002" height="139.79999999999998" fill="none" stroke="#000" stroke-width="0.51"/>
<line x1="68.60" y1="348.2" x2="68.60" y2="350.44" stroke="#000" stroke-width="0.51"/>
<text x="68.60" y="358.77" font-size="7.80" text-anchor="middle" textLength="8.18" lengthAdjust="spacingAndGlyphs" >−2</text>
<line x1="103.00" y1="348.2" x2="103.00" y2="350.44" stroke="#000" stroke-width="0.51"/>
<text x="103.00" y="358.77" font-size="7.80" text-anchor="middle" textLength="8.18" lengthAdjust="spacingAndGlyphs" >−1</text>
<line x1="137.40" y1="348.2" x2="137.40" y2="350.44" stroke="#000" stroke-width="0.51"/>
<text x="137.40" y="358.77" font-size="7.80" text-anchor="middle" textLength="3.99" lengthAdjust="spacingAndGlyphs" >0</text>
<line x1="171.80" y1="348.2" x2="171.80" y2="350.44" stroke="#000" stroke-width="0.51"/>
<text x="171.80" y="358.77" font-size="7.80" text-anchor="middle" textLength="3.99" lengthAdjust="spacingAndGlyphs" >1</text>
<line x1="206.20" y1="348.2" x2="206.20" y2="350.44" stroke="#000" stroke-width="0.51"/>
<text x="206.20" y="358.77" font-size="7.80" text-anchor="middle" textLength="3.99" lengthAdjust="spacingAndGlyphs" >2</text>
<line x1="240.60" y1="348.2" x2="240.60" y2="350.44" stroke="#000" stroke-width="0.51"/>
<text x="240.60" y="358.77" font-size="7.80" text-anchor="middle" textLength="3.99" lengthAdjust="spacingAndGlyphs" >3</text>
<line x1="34.46" y1="334.40" x2="36.7" y2="334.40" stroke="#000" stroke-width="0.51"/>
<text x="17.12" y="338.19" font-size="7.80" text-anchor="start" textLength="7.40" lengthAdjust="spacingAndGlyphs" >10</text>
<text x="24.82" y="335.62" font-size="4.13" text-anchor="start" textLength="6.09" lengthAdjust="spacingAndGlyphs" >−2</text>
<line x1="34.46" y1="312.50" x2="36.7" y2="312.50" stroke="#000" stroke-width="0.51"/>
<text x="17.12" y="316.29" font-size="7.80" text-anchor="start" textLength="7.40" lengthAdjust="spacingAndGlyphs" >10</text>
<text x="24.82" y="313.72" font-size="4.13" text-anchor="start" textLength="6.09" lengthAdjust="spacingAndGlyphs" >−1</text>
<line x1="34.46" y1="290.60" x2="36.7" y2="290.60" stroke="#000" stroke-width="0.51"/>
<text x="20.58" y="294.39" font-size="7.80" text-anchor="start" textLength="7.40" lengthAdjust="spacingAndGlyphs" >10</text>
<text x="28.28" y="291.82" font-size="4.13" text-anchor="start" textLength="2.63" lengthAdjust="spacingAndGlyphs" >0</text>
<line x1="34.46" y1="268.70" x2="36.7" y2="268.70" stroke="#000" stroke-width="0.51"/>
<text x="20.58" y="272.49" font-size="7.80" text-anchor="start" textLength="7.40" lengthAdjust="spacingAndGlyphs" >10</text>
<text x="28.28" y="269.92" font-size="4.13" text-anchor="start" textLength="2.63" lengthAdjust="spacingAndGlyphs" >1</text>
<line x1="34.46" y1="246.80" x2="36.7" y2="246.80" stroke="#000" stroke-width="0.51"/>
<text x="20.58" y="250.59" font-size="7.80" text-anchor="start" textLength="7.40" lengthAdjust="spacingAndGlyphs" >10</text>
<text x="28.28" y="248.02" font-size="4.13" text-anchor="start" textLength="2.63" lengthAdjust="spacingAndGlyphs" >2</text>
<line x1="34.46" y1="224.90" x2="36.7" y2="224.90" stroke="#000" stroke-width="0.51"/>
<text x="20.58" y="228.69" font-size="7.80" text-anchor="start" textLength="7.40" lengthAdjust="spacingAndGlyphs" >10</text>
<text x="28.28" y="226.12" font-size="4.13" text-anchor="start" textLength="2.63" lengthAdjust="spacingAndGlyphs" >3</text>
<line x1="35.42" y1="345.85" x2="36.7" y2="345.85" stroke="#000" stroke-width="0.38"/>
<line x1="35.42" y1="343.11" x2="36.7" y2="343.11" stroke="#000" stroke-width="0.38"/>
<line x1="35.42" y1="340.99" x2="36.7" y2="340.99" stroke="#000" stroke-width="0.38"/>
<line x1="35.42" y1="339.26" x2="36.7" y2="339.26" stroke="#000" stroke-width="0.38"/>
<line x1="35.42" y1="337.79" x2="36.7" y2="337.79" stroke="#000" stroke-width="0.38"/>
<line x1="35.42" y1="336.52" x2="36.7" y2="336.52" stroke="#000" stroke-width="0.38"/>
<line x1="35.42" y1="335.40" x2="36.7" y2="335.40" stroke="#000" stroke-width="0.38"/>
<line x1="35.42" y1="327.81" x2="36.7" y2="327.81" stroke="#000" stroke-width="0.38"/>
<line x1="35.42" y1="323.95" x2="36.7" y2="323.95" stroke="#000" stroke-width="0.38"/>
<line x1="35.42" y1="321.21" x2="36.7" y2="321.21" stroke="#000" stroke-width="0.38"/>
<line x1="35.42" y1="319.09" x2="36.7" y2="319.09" stroke="#000" stroke-width="0.38"/>
<line x1="35.42" y1="317.36" x2="36.7" y2="317.36" stroke="#000" stroke-width="0.38"/>
<line x1="35.42" y1="315.89" x2="36.7" y2="315.89" stroke="#000" stroke-width="0.38"/>
<line x1="35.42" y1="314.62" x2="36.7" y2="314.62" stroke="#000" stroke-width="0.38"/>
<line x1="35.42" y1="313.50" x2="36.7" y2="313.50" stroke="#000" stroke-width="0.38"/>
<line x1="35.42" y1="305.91" x2="36.7" y2="305.91" stroke="#000" stroke-width="0.38"/>
<line x1="35.42" y1="302.05" x2="36.7" y2="302.05" stroke="#000" stroke-width="0.38"/>
<line x1="35.42" y1="299.31" x2="36.7" y2="299.31" stroke="#000" stroke-width="0.38"/>
<line x1="35.42" y1="297.19" x2="36.7" y2="297.19" stroke="#000" stroke-width="0.38"/>
<line x1="35.42" y1="295.46" x2="36.7" y2="295.46" stroke="#000" stroke-width="0.38"/>
<line x1="35.42" y1="293.99" x2="36.7" y2="293.99" stroke="#000" stroke-width="0.38"/>
<line x1="35.42" y1="292.72" x2="36.7" y2="292.72" stroke="#000" stroke-width="0.38"/>
<line x1="35.42" y1="291.60" x2="36.7" y2="291.60" stroke="#000" stroke-width="0.38"/>
<line x1="35.42" y1="284.01" x2="36.7" y2="284.01" stroke="#000" stroke-width="0.38"/>
<line x1="35.42" y1="280.15" x2="36.7" y2="280.15" stroke="#000" stroke-width="0.38"/>
<line x1="35.42" y1="277.41" x2="36.7" y2="277.41" stroke="#000" stroke-width="0.38"/>
<line x1="35.42" y1="275.29" x2="36.7" y2="275.29" stroke="#000" stroke-width="0.38"/>
<line x1="35.42" y1="273.56" x2="36.7" y2="273.56" stroke="#000" stroke-width="0.38"/>
<line x1="35.42" y1="272.09" x2="36.7" y2="272.09" stroke="#000" stroke-width="0.38"/>
<line x1="35.42" y1="270.82" x2="36.7" y2="270.82" stroke="#000" stroke-width="0.38"/>
<line x1="35.42" y1="269.70" x2="36.7" y2="269.70" stroke="#000" stroke-width="0.38"/>
<line x1="35.42" y1="262.11" x2="36.7" y2="262.11" stroke="#000" stroke-width="0.38"/>
<line x1="35.42" y1="258.25" x2="36.7" y2="258.25" stroke="#000" stroke-width="0.38"/>
<line x1="35.42" y1="255.51" x2="36.7" y2="255.51" stroke="#000" stroke-width="0.38"/>
<line x1="35.42" y1="253.39" x2="36.7" y2="253.39" stroke="#000" stroke-width="0.38"/>
<line x1="35.42" y1="251.66" x2="36.7" y2="251.66" stroke="#000" stroke-width="0.38"/>
<line x1="35.42" y1="250.19" x2="36.7" y2="250.19" stroke="#000" stroke-width="0.38"/>
<line x1="35.42" y1="248.92" x2="36.7" y2="248.92" stroke="#000" stroke-width="0.38"/>
<line x1="35.42" y1="247.80" x2="36.7" y2="247.80" stroke="#000" stroke-width="0.38"/>
<line x1="35.42" y1="240.21" x2="36.7" y2="240.21" stroke="#000" stroke-width="0.38"/>
<line x1="35.42" y1="236.35" x2="36.7" y2="236.35" stroke="#000" stroke-width="0.38"/>
<line x1="35.42" y1="233.61" x2="36.7" y2="233.61" stroke="#000" stroke-width="0.38"/>
<line x1="35.42" y1="231.49" x2="36.7" y2="231.49" stroke="#000" stroke-width="0.38"/>
<line x1="35.42" y1="229.76" x2="36.7" y2="229.76" stroke="#000" stroke-width="0.38"/>
<line x1="35.42" y1="228.29" x2="36.7" y2="228.29" stroke="#000" stroke-width="0.38"/>
<line x1="35.42" y1="227.02" x2="36.7" y2="227.02" stroke="#000" stroke-width="0.38"/>
<line x1="35.42" y1="225.90" x2="36.7" y2="225.90" stroke="#000" stroke-width="0.38"/>
<line x1="35.42" y1="218.31" x2="36.7" y2="218.31" stroke="#000" stroke-width="0.38"/>
<line x1="35.42" y1="214.45" x2="36.7" y2="214.45" stroke="#000" stroke-width="0.38"/>
<line x1="35.42" y1="211.71" x2="36.7" y2="211.71" stroke="#000" stroke-width="0.38"/>
<line x1="35.42" y1="209.59" x2="36.7" y2="209.59" stroke="#000" stroke-width="0.38"/>
<text x="16.35" y="204.70" font-size="8.60" textLength="35.72" lengthAdjust="spacingAndGlyphs">Empirical</text>
<text x="54.52" y="204.70" font-size="8.60" textLength="14.97" lengthAdjust="spacingAndGlyphs">PDF</text>
<text x="71.93" y="204.70" font-size="8.60" textLength="37.08" lengthAdjust="spacingAndGlyphs">Estimator</text>
<text x="111.46" y="204.70" font-size="8.60" textLength="11.00" lengthAdjust="spacingAndGlyphs">vs.</text>
<text x="124.90" y="204.70" font-size="8.60" textLength="47.20" lengthAdjust="spacingAndGlyphs">Groundtruth</text>
<text x="174.54" y="204.70" font-size="8.60" textLength="27.81" lengthAdjust="spacingAndGlyphs">Normal</text>
<text x="204.79" y="204.70" font-size="8.60" textLength="31.66" lengthAdjust="spacingAndGlyphs">Density,</text>
<text x="238.90" y="204.70" font-size="8.60" textLength="31.75" lengthAdjust="spacingAndGlyphs">N=1000</text>
<text x="143.50" y="367.40" font-size="7.40" text-anchor="middle" >x</text>
<text x="10.90" y="279.30" font-size="6.60" text-anchor="middle" textLength="27.00" lengthAdjust="spacingAndGlyphs" transform="rotate(-90 10.90 279.30)" >log(p(x))</text>
<clipPath id="cbr"><rect x="308.6" y="209.4" width="212.0" height="137.4"/></clipPath>
<g clip-path="url(#cbr)">
<path d="M338.6 295.7h0M341.3 295.2h0M339.7 298.4h0M344.0 301.6h0M339.1 308.1h0M335.9 313.5h0M335.4 316.1h0M334.8 322.6h0M339.1 319.4h0M341.8 316.1h0M347.2 318.3h0M348.8 316.1h0M343.0 312.5h0M337.5 311.0h0M340.5 321.5h0M318.5 310.7h0M331.7 332.7h0M334.7 322.9h0M352.4 254.2h0M362.9 261.0h0M365.9 261.0h0M373.4 247.7h0M377.7 247.7h0M374.4 252.2h0M388.6 240.7h0M388.4 240.8h0M396.1 230.1h0M396.1 239.5h0M400.0 237.7h0M400.7 240.7h0M409.4 242.9h0M426.2 216.0h0M418.9 231.9h0M423.7 240.2h0M435.8 239.0h0M435.8 242.2h0M435.0 244.6h0M451.0 244.4h0M444.7 247.1h0M449.2 251.9h0M441.9 253.5h0M447.6 256.7h0M461.8 262.4h0M467.8 263.6h0M473.9 264.8h0M469.0 281.7h0M475.1 284.8h0M489.9 321.5h0M502.8 332.0h0M507.8 326.9h0M510.3 322.0h0M377.1 303.5h0M359.6 309.2h0M347.7 291.8h0M348.9 288.7h0M347.1 283.3h0M348.3 279.7h0M351.3 279.4h0M355.5 280.5h0M359.2 278.5h0M360.4 275.4h0M362.2 271.2h0M362.3 267.6h0M366.5 266.7h0M370.7 266.0h0M373.1 260.1h0M376.2 258.9h0M379.8 254.0h0M381.0 252.2h0M384.0 251.0h0M388.9 247.4h0M393.7 248.6h0M396.1 244.1h0M401.0 246.8h0M405.8 245.0h0M409.6 242.6h0M416.5 246.2h0M423.1 247.1h0M427.4 245.2h0M433.0 247.5h0M438.3 248.3h0M441.9 253.5h0M447.9 256.3h0M452.0 262.0h0M455.7 265.4h0M455.1 272.1h0M460.0 274.5h0M463.0 273.9h0M466.6 272.7h0M472.4 274.5h0M471.3 279.0h0M471.3 284.1h0M475.0 286.1h0M473.1 289.3h0M470.6 291.5h0M472.5 295.5h0M475.6 294.4h0M479.8 293.1h0M481.4 294.1h0M485.8 299.2h0M486.2 304.0h0M487.1 307.7h0M488.3 313.5h0M484.0 315.5h0M478.6 316.1h0M473.1 311.9h0M468.3 310.7h0M464.1 308.9h0M459.8 305.8h0M456.2 304.0h0M448.4 301.7h0M441.1 299.5h0M436.7 295.9h0M430.2 296.6h0M423.6 294.4h0M416.4 295.2h0M409.1 295.9h0M401.8 295.2h0M400.0 295.9h0M394.5 297.5h0M385.8 298.6h0M380.4 300.8h0M377.1 303.5h0M372.7 301.9h0M367.3 304.1h0M361.8 305.7h0M359.6 309.2h0M356.4 309.0h0M350.9 311.2h0M349.0 313.0h0M348.5 308.0h0M348.0 303.0h0M347.0 298.0h0M347.3 290.1h0M349.4 288.5h0M349.1 285.2h0M347.7 282.7h0M349.5 279.2h0M353.3 279.0h0M355.5 278.7h0M358.5 278.1h0M360.8 273.5h0M363.1 270.7h0M365.3 265.0h0M367.7 265.6h0M370.3 262.8h0M373.4 263.3h0M373.1 258.4h0M376.4 258.7h0M379.5 253.9h0M381.0 253.0h0M382.5 250.1h0M383.4 250.1h0M388.2 246.5h0M389.9 246.4h0M391.6 248.0h0M395.3 246.8h0M396.2 246.2h0M396.6 243.4h0M398.8 246.3h0M402.7 247.7h0M405.2 246.4h0M407.5 242.8h0M409.8 242.8h0M413.4 244.7h0M414.5 244.8h0M418.7 246.2h0M423.0 246.6h0M427.4 246.4h0M428.3 244.2h0M430.9 247.7h0M435.4 248.2h0M437.8 247.2h0M440.4 250.2h0M441.2 253.0h0M443.4 252.4h0M447.0 253.8h0M449.8 257.8h0M451.7 258.4h0M453.2 262.4h0M454.1 264.9h0M455.9 268.5h0M456.0 268.8h0M456.0 272.2h0M459.6 274.6h0M462.6 273.3h0M462.5 272.2h0M469.2 271.4h0M469.7 274.8h0M472.3 278.9h0M472.4 279.2h0M473.0 283.5h0M473.4 286.5h0M473.7 285.4h0M472.6 288.8h0M472.5 294.8h0M473.7 293.5h0M476.3 294.8h0M481.7 292.1h0M481.5 296.5h0M484.8 299.2h0M485.8 301.2h0M487.3 303.6h0M485.6 306.3h0M486.0 308.1h0M486.5 311.0h0M487.7 314.8h0M482.3 314.1h0M481.3 317.7h0M477.6 314.2h0M474.5 314.3h0M472.5 312.3h0M468.0 312.1h0M467.2 310.4h0M462.0 309.1h0M462.5 305.9h0M459.5 305.8h0M454.5 304.0h0M452.2 304.9h0M449.6 301.8h0M446.7 302.3h0M444.5 299.9h0M443.4 299.9h0M440.2 297.7h0M438.1 295.3h0M436.0 297.3h0M432.9 297.0h0M427.9 297.7h0M426.5 293.9h0M422.0 295.8h0M419.2 296.7h0M418.7 294.2h0M415.1 297.2h0M411.7 296.1h0M409.4 296.6h0M408.1 296.0h0M405.2 295.9h0M401.8 296.9h0M401.8 297.2h0M399.2 294.9h0M396.9 297.0h0M394.7 299.3h0M389.0 296.6h0M388.1 297.9h0M385.9 300.0h0M382.8 301.7h0M379.5 303.6h0M372.8 303.7h0M371.6 302.7h0M367.6 303.3h0M366.1 305.0h0M364.7 305.4h0M362.0 307.9h0M358.5 310.7h0M354.5 308.8h0M351.7 311.5h0M350.7 311.2h0M347.1 311.5h0M346.8 310.7h0M346.5 307.2h0M346.7 304.1h0M347.1 301.7h0M346.9 299.9h0M345.8 295.5h0M346.7 292.5h0M490.7 308.2h0M473.3 284.3h0M382.0 302.9h0M347.4 284.6h0M347.6 306.4h0M438.2 247.2h0M460.5 270.9h0M471.6 277.9h0M489.5 296.9h0M360.8 267.9h0M343.9 293.9h0M461.3 306.9h0M482.6 293.2h0M445.5 301.1h0M440.9 247.6h0M409.0 242.0h0M401.9 240.8h0M472.7 290.8h0M474.0 315.7h0M400.1 245.7h0M413.9 243.5h0M486.0 296.9h0M466.4 312.8h0M423.8 242.0h0M391.4 298.3h0M389.3 244.8h0M487.4 308.6h0M445.9 303.5h0M471.1 313.5h0M434.9 246.7h0M453.5 304.7h0M398.1 244.9h0M462.6 270.7h0M358.2 309.5h0M344.1 301.0h0M455.3 264.6h0M413.1 296.4h0M431.2 299.6h0M482.4 291.3h0M422.6 297.3h0M348.0 316.4h0M380.7 248.5h0M453.7 304.8h0M421.5 244.2h0M472.4 312.0h0M406.7 243.6h0M360.8 271.5h0M385.5 246.5h0" stroke="#1f77b4" stroke-width="4.55" stroke-linecap="round" fill="none"/>
<path d="M347.7,291.8 L348.9,288.7 L347.1,283.3 L348.3,279.7 L351.3,279.4 L355.5,280.5 L359.2,278.5 L360.4,275.4 L362.2,271.2 L362.3,267.6 L366.5,266.7 L370.7,266.0 L373.1,260.1 L376.2,258.9 L379.8,254.0 L381.0,252.2 L384.0,251.0 L388.9,247.4 L393.7,248.6 L396.1,244.1 L401.0,246.8 L405.8,245.0 L409.6,242.6 L416.5,246.2 L423.1,247.1 L427.4,245.2 L433.0,247.5 L438.3,248.3 L441.9,253.5 L447.9,256.3 L452.0,262.0 L455.7,265.4 L455.1,272.1 L460.0,274.5 L463.0,273.9 L466.6,272.7 L472.4,274.5 L471.3,279.0 L471.3,284.1 L475.0,286.1 L473.1,289.3 L470.6,291.5 L472.5,295.5 L475.6,294.4 L479.8,293.1 L481.4,294.1 L485.8,299.2 L486.2,304.0 L487.1,307.7 L488.3,313.5 L484.0,315.5 L478.6,316.1 L473.1,311.9 L468.3,310.7 L464.1,308.9 L459.8,305.8 L456.2,304.0 L448.4,301.7 L441.1,299.5 L436.7,295.9 L430.2,296.6 L423.6,294.4 L416.4,295.2 L409.1,295.9 L401.8,295.2 L400.0,295.9 L394.5,297.5 L385.8,298.6 L380.4,300.8 L377.1,303.5 L372.7,301.9 L367.3,304.1 L361.8,305.7 L359.6,309.2 L356.4,309.0 L350.9,311.2 L349.0,313.0 L348.5,308.0 L348.0,303.0 L347.0,298.0Z" fill="#1f77b4" stroke="#1f77b4" stroke-width="0.50" stroke-linejoin="round"/>
<path d="M317.81,332.37 L319.02,331.08 L320.24,329.80 L321.45,328.54 L322.66,327.30 L323.87,326.08 L325.08,324.87 L326.29,323.68 L327.51,322.51 L328.72,321.35 L329.93,320.21 L331.14,319.09 L332.35,317.98 L333.56,316.89 L334.77,315.82 L335.99,314.77 L337.20,313.73 L338.41,312.71 L339.62,311.70 L340.83,310.72 L342.04,309.75 L343.26,308.79 L344.47,307.86 L345.68,306.94 L346.89,306.04 L348.10,305.15 L349.31,304.28 L350.53,303.43 L351.74,302.60 L352.95,301.78 L354.16,300.98 L355.37,300.20 L356.58,299.43 L357.79,298.68 L359.01,297.95 L360.22,297.24 L361.43,296.54 L362.64,295.86 L363.85,295.19 L365.06,294.55 L366.28,293.92 L367.49,293.30 L368.70,292.71 L369.91,292.13 L371.12,291.57 L372.33,291.02 L373.55,290.49 L374.76,289.98 L375.97,289.49 L377.18,289.01 L378.39,288.55 L379.60,288.11 L380.81,287.68 L382.03,287.27 L383.24,286.88 L384.45,286.51 L385.66,286.15 L386.87,285.81 L388.08,285.48 L389.30,285.18 L390.51,284.88 L391.72,284.61 L392.93,284.36 L394.14,284.12 L395.35,283.89 L396.56,283.69 L397.78,283.50 L398.99,283.33 L400.20,283.17 L401.41,283.04 L402.62,282.92 L403.83,282.81 L405.05,282.73 L406.26,282.66 L407.47,282.61 L408.68,282.57 L409.89,282.55 L411.10,282.55 L412.32,282.57 L413.53,282.60 L414.74,282.65 L415.95,282.71 L417.16,282.80 L418.37,282.90 L419.58,283.02 L420.80,283.15 L422.01,283.30 L423.22,283.47 L424.43,283.66 L425.64,283.86 L426.85,284.08 L428.07,284.31 L429.28,284.57 L430.49,284.84 L431.70,285.12 L432.91,285.43 L434.12,285.75 L435.33,286.09 L436.55,286.44 L437.76,286.82 L438.97,287.21 L440.18,287.61 L441.39,288.04 L442.60,288.48 L443.82,288.93 L445.03,289.41 L446.24,289.90 L447.45,290.41 L448.66,290.93 L449.87,291.47 L451.09,292.03 L452.30,292.61 L453.51,293.20 L454.72,293.81 L455.93,294.44 L457.14,295.08 L458.35,295.75 L459.57,296.42 L460.78,297.12 L461.99,297.83 L463.20,298.56 L464.41,299.31 L465.62,300.07 L466.84,300.85 L468.05,301.65 L469.26,302.46 L470.47,303.29 L471.68,304.14 L472.89,305.00 L474.11,305.89 L475.32,306.79 L476.53,307.70 L477.74,308.63 L478.95,309.58 L480.16,310.55 L481.37,311.54 L482.59,312.54 L483.80,313.55 L485.01,314.59 L486.22,315.64 L487.43,316.71 L488.64,317.80 L489.86,318.90 L491.07,320.02 L492.28,321.16 L493.49,322.31 L494.70,323.48 L495.91,324.67 L497.12,325.87 L498.34,327.09 L499.55,328.33 L500.76,329.59 L501.97,330.86 L503.18,332.15 L504.39,333.46 L505.61,334.78 L506.82,336.12 L508.03,337.48 L509.24,338.85 L510.45,340.25" fill="none" stroke="#ff0000" stroke-width="1.15" stroke-linejoin="round" stroke-linecap="square"/>
</g>
<rect x="308.6" y="209.4" width="212.0" height="137.4" fill="none" stroke="#000" stroke-width="0.51"/>
<line x1="316.40" y1="346.8" x2="316.40" y2="349.01" stroke="#000" stroke-width="0.51"/>
<text x="316.40" y="357.31" font-size="7.80" text-anchor="middle" textLength="8.18" lengthAdjust="spacingAndGlyphs" >−4</text>
<line x1="339.95" y1="346.8" x2="339.95" y2="349.01" stroke="#000" stroke-width="0.51"/>
<text x="339.95" y="357.31" font-size="7.80" text-anchor="middle" textLength="8.18" lengthAdjust="spacingAndGlyphs" >−3</text>
<line x1="363.50" y1="346.8" x2="363.50" y2="349.01" stroke="#000" stroke-width="0.51"/>
<text x="363.50" y="357.31" font-size="7.80" text-anchor="middle" textLength="8.18" lengthAdjust="spacingAndGlyphs" >−2</text>
<line x1="387.05" y1="346.8" x2="387.05" y2="349.01" stroke="#000" stroke-width="0.51"/>
<text x="387.05" y="357.31" font-size="7.80" text-anchor="middle" textLength="8.18" lengthAdjust="spacingAndGlyphs" >−1</text>
<line x1="410.60" y1="346.8" x2="410.60" y2="349.01" stroke="#000" stroke-width="0.51"/>
<text x="410.60" y="357.31" font-size="7.80" text-anchor="middle" textLength="3.99" lengthAdjust="spacingAndGlyphs" >0</text>
<line x1="434.15" y1="346.8" x2="434.15" y2="349.01" stroke="#000" stroke-width="0.51"/>
<text x="434.15" y="357.31" font-size="7.80" text-anchor="middle" textLength="3.99" lengthAdjust="spacingAndGlyphs" >1</text>
<line x1="457.70" y1="346.8" x2="457.70" y2="349.01" stroke="#000" stroke-width="0.51"/>
<text x="457.70" y="357.31" font-size="7.80" text-anchor="middle" textLength="3.99" lengthAdjust="spacingAndGlyphs" >2</text>
<line x1="481.25" y1="346.8" x2="481.25" y2="349.01" stroke="#000" stroke-width="0.51"/>
<text x="481.25" y="357.31" font-size="7.80" text-anchor="middle" textLength="3.99" lengthAdjust="spacingAndGlyphs" >3</text>
<line x1="504.80" y1="346.8" x2="504.80" y2="349.01" stroke="#000" stroke-width="0.51"/>
<text x="504.80" y="357.31" font-size="7.80" text-anchor="middle" textLength="3.99" lengthAdjust="spacingAndGlyphs" >4</text>
<line x1="306.39" y1="320.99" x2="308.6" y2="320.99" stroke="#000" stroke-width="0.51"/>
<text x="289.08" y="324.78" font-size="7.80" text-anchor="start" textLength="7.40" lengthAdjust="spacingAndGlyphs" >10</text>
<text x="296.78" y="322.21" font-size="4.13" text-anchor="start" textLength="6.09" lengthAdjust="spacingAndGlyphs" >−3</text>
<line x1="306.39" y1="291.43" x2="308.6" y2="291.43" stroke="#000" stroke-width="0.51"/>
<text x="289.08" y="295.22" font-size="7.80" text-anchor="start" textLength="7.40" lengthAdjust="spacingAndGlyphs" >10</text>
<text x="296.78" y="292.65" font-size="4.13" text-anchor="start" textLength="6.09" lengthAdjust="spacingAndGlyphs" >−1</text>
<line x1="306.39" y1="261.87" x2="308.6" y2="261.87" stroke="#000" stroke-width="0.51"/>
<text x="292.55" y="265.66" font-size="7.80" text-anchor="start" textLength="7.40" lengthAdjust="spacingAndGlyphs" >10</text>
<text x="300.25" y="263.09" font-size="4.13" text-anchor="start" textLength="2.63" lengthAdjust="spacingAndGlyphs" >1</text>
<line x1="306.39" y1="232.31" x2="308.6" y2="232.31" stroke="#000" stroke-width="0.51"/>
<text x="292.55" y="236.10" font-size="7.80" text-anchor="start" textLength="7.40" lengthAdjust="spacingAndGlyphs" >10</text>
<text x="300.25" y="233.53" font-size="4.13" text-anchor="start" textLength="2.63" lengthAdjust="spacingAndGlyphs" >3</text>
<text x="285.65" y="205.60" font-size="8.60" textLength="35.22" lengthAdjust="spacingAndGlyphs">Empirical</text>
<text x="323.27" y="205.60" font-size="8.60" textLength="14.76" lengthAdjust="spacingAndGlyphs">PDF</text>
<text x="340.44" y="205.60" font-size="8.60" textLength="36.55" lengthAdjust="spacingAndGlyphs">Estimator</text>
<text x="379.40" y="205.60" font-size="8.60" textLength="10.84" lengthAdjust="spacingAndGlyphs">vs.</text>
<text x="392.65" y="205.60" font-size="8.60" textLength="46.53" lengthAdjust="spacingAndGlyphs">Groundtruth</text>
<text x="441.58" y="205.60" font-size="8.60" textLength="27.41" lengthAdjust="spacingAndGlyphs">Normal</text>
<text x="471.40" y="205.60" font-size="8.60" textLength="31.21" lengthAdjust="spacingAndGlyphs">Density,</text>
<text x="505.02" y="205.60" font-size="8.60" textLength="38.53" lengthAdjust="spacingAndGlyphs">N=10,000</text>
<text x="414.60" y="366.40" font-size="7.40" text-anchor="middle" >x</text>
<text x="284.10" y="279.10" font-size="6.60" text-anchor="middle" textLength="27.00" lengthAdjust="spacingAndGlyphs" transform="rotate(-90 284.10 279.10)" >log(p(x))</text>
</svg></body></html>
